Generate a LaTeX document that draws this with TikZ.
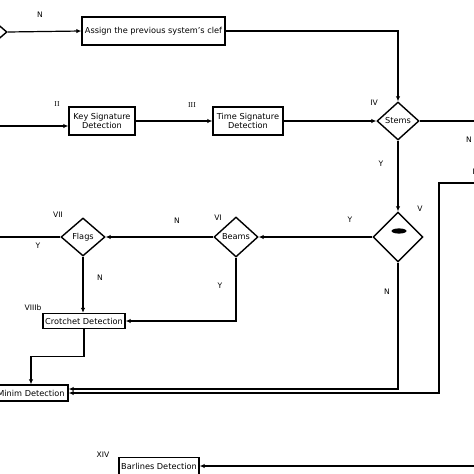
\documentclass[tikz,border=0pt]{standalone}
\usepackage{fontspec}
\setmainfont{DejaVu Sans}
\newfontfamily\numfont{Liberation Serif}
\usetikzlibrary{arrows.meta,positioning,shapes.geometric}

\begin{document}
\begin{tikzpicture}[
    x=1pt, y=-1pt,
    box/.style={
        rectangle, draw, line width=1.4pt, inner sep=1pt,
        align=center, font=\fontsize{8.2}{9.6}\selectfont
    },
    test/.style={
        diamond, draw, line width=1.4pt, inner sep=0pt,
        font=\fontsize{8.2}{9.6}\selectfont
    },
    tag/.style={font=\fontsize{7.6}{8.6}\selectfont},
    arrow/.style={-{Latex[length=5pt,width=4.5pt]},line width=1.2pt},
    link/.style={line width=1.2pt}
]
\useasboundingbox (0,0) rectangle (474,474);

\node[test,minimum width=44pt,minimum height=38pt] (clef)    at (-15,32)  {};
\node[box,minimum width=143pt,minimum height=28pt] (assign) at (153.5,31) {Assign the previous system's clef};
\node[box,minimum width=66pt,minimum height=28pt]  (key)    at (102,121)  {Key Signature\\Detection};
\node[box,minimum width=70pt,minimum height=28pt]  (time)   at (248,121)  {Time Signature\\Detection};
\node[test,minimum width=42pt,minimum height=38pt] (stems)  at (398,121)  {Stems};
\node[test,minimum width=50pt,minimum height=50pt] (dash)   at (398,237)  {};
\node[test,minimum width=44pt,minimum height=40pt] (beams)  at (236,237)  {Beams};
\node[test,minimum width=44pt,minimum height=38pt] (flags)  at (83,237)   {Flags};
\node[box,minimum width=82pt,minimum height=15pt]  (crotchet) at (84,321) {Crotchet Detection};
\node[box,minimum width=74pt,minimum height=16pt]  (minim)  at (31,393)   {Minim Detection};
\node[box,minimum width=80pt,minimum height=17pt]  (barlines) at (159,466) {Barlines Detection};

\fill (399,231) ellipse (7.5pt and 2.6pt);

\coordinate (keyin)   at (-5,126);
\coordinate (stemout) at (480,121);
\coordinate (ninein)  at (480,183);
\coordinate (flagout) at (-5,237);
\coordinate (barin)   at (480,466);

\node[tag] (lN1)   at (40,15)   {N};
\node[tag] (lII)   at (57,104)  {\numfont II};
\node[tag] (lIII)  at (192,105) {\numfont III};
\node[tag] (lIV)   at (374,103) {IV};
\node[tag] (lN2)   at (469,140) {N};
\node[tag,anchor=west] (lIX) at (469,172) {IX};
\node[tag] (lY1)   at (381,164) {Y};
\node[tag] (lV)    at (420,209) {V};
\node[tag] (lY2)   at (350,220) {Y};
\node[tag] (lN3)   at (387,292) {N};
\node[tag] (lVI)   at (218,218) {VI};
\node[tag] (lN4)   at (177,221) {N};
\node[tag] (lY3)   at (220,286) {Y};
\node[tag] (lVII)  at (58,215)  {VII};
\node[tag] (lY4)   at (38,246)  {Y};
\node[tag] (lN5)   at (100,278) {N};
\node[tag] (lVIII) at (33,308)  {VIIIb};
\node[tag] (lXIV)  at (103,455) {XIV};

\draw[arrow] (clef.east) -- (assign.west);
\draw[arrow] (assign.east) -| (stems.north);
\draw[arrow] (keyin) -- (key.west |- keyin);
\draw[arrow] (key) -- (time);
\draw[arrow] (time) -- (stems);
\draw[link]  (stems.east) -- (stemout);
\draw[arrow] (stems.south) -- (dash.north);
\draw[arrow] (dash.west) -- (beams.east);
\draw[arrow] (dash.south) |- ([yshift=4pt]minim.east);
\draw[arrow] (ninein) -- (439,183) |- (minim.east);
\draw[arrow] (beams.west) -- (flags.east);
\draw[arrow] (beams.south) |- (crotchet.east);
\draw[link]  (flags.west) -- (flagout);
\draw[arrow] (flags.south) -- (flags.south |- crotchet.north);
\draw[arrow] (crotchet.south) -- ++(0,27) -| (minim.north);
\draw[arrow] (barin) -- (barlines.east);
\end{tikzpicture}
\end{document}
